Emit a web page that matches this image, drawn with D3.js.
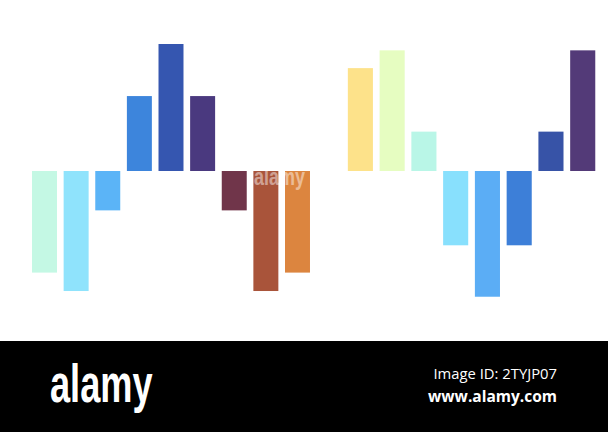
<!DOCTYPE html>
<html>
<head>
<meta charset="utf-8">
<script src="https://cdn.jsdelivr.net/npm/d3@7"></script>
<style>
  html, body { margin: 0; padding: 0; background: #fff; }
  svg { display: block; }
</style>
</head>
<body>
<svg id="chart" width="608" height="432"></svg>
<script>
// left group of bars
var leftCats = ['a1', 'a2', 'a3', 'a4', 'a5', 'a6', 'a7', 'a8', 'a9'];
var leftValues = [-0.80, -0.945, -0.31, 0.59, 1.0, 0.59, -0.31, -0.945, -0.80];
var leftColors = ['#c4f8e4', '#8fe3fc', '#5bb4f7', '#3d85dc', '#3556b0', '#4a397f', '#70354a', '#a9543a', '#dc853f'];

// right group of bars
var rightCats = ['b1', 'b2', 'b3', 'b4', 'b5', 'b6', 'b7', 'b8'];
var rightValues = [0.81, 0.95, 0.31, -0.585, -0.99, -0.585, 0.31, 0.95];
var rightColors = ['#fde28a', '#e6fdc1', '#b9f6e7', '#88e0fd', '#5badf5', '#3d7fd8', '#3753a7', '#533a78'];

var svg = d3.select('#chart');

var y = d3.scaleLinear().domain([-1, 1]).range([298, 44]);

var xLeft = d3.scaleBand().domain(leftCats).range([28.7, 313.3]).paddingInner(0.21).paddingOuter(0.105);
var xRight = d3.scaleBand().domain(rightCats).range([344.5, 598.6]).paddingInner(0.21).paddingOuter(0.105);

function drawGroup(cats, values, colors, x) {
  svg.append('g').selectAll('rect')
    .data(values)
    .join('rect')
    .attr('x', (d, i) => x(cats[i]))
    .attr('width', x.bandwidth())
    .attr('y', d => y(Math.max(0, d)))
    .attr('height', d => Math.abs(y(d) - y(0)))
    .attr('fill', (d, i) => colors[i]);
}

drawGroup(leftCats, leftValues, leftColors, xLeft);
drawGroup(rightCats, rightValues, rightColors, xRight);

// faint watermark over the bars
svg.append('text')
  .attr('transform', 'translate(254,185) scale(0.75,1)')
  .attr('fill', '#fff')
  .attr('opacity', 0.45)
  .style('font-family', 'Liberation Sans, sans-serif')
  .style('font-weight', 'bold')
  .style('font-size', '24px')
  .text('alamy');

// bottom band
svg.append('rect')
  .attr('x', 0).attr('y', 341)
  .attr('width', 608).attr('height', 91)
  .attr('fill', '#000');

svg.append('text')
  .attr('transform', 'translate(50,402) scale(0.67,1)')
  .attr('fill', '#fff')
  .style('font-family', 'Liberation Sans, sans-serif')
  .style('font-weight', 'bold')
  .style('font-size', '54px')
  .text('alamy');

svg.append('text')
  .attr('x', 557)
  .attr('y', 379)
  .attr('fill', '#fff')
  .style('font-family', 'Open Sans, sans-serif')
  .style('font-size', '14.8px')
  .style('text-anchor', 'end')
  .text('Image ID: 2TYJP07');

svg.append('text')
  .attr('x', 557)
  .attr('y', 402)
  .attr('fill', '#fff')
  .style('font-family', 'Open Sans, sans-serif')
  .style('font-weight', 'bold')
  .style('font-size', '15.5px')
  .style('text-anchor', 'end')
  .text('www.alamy.com');
</script>
</body>
</html>
